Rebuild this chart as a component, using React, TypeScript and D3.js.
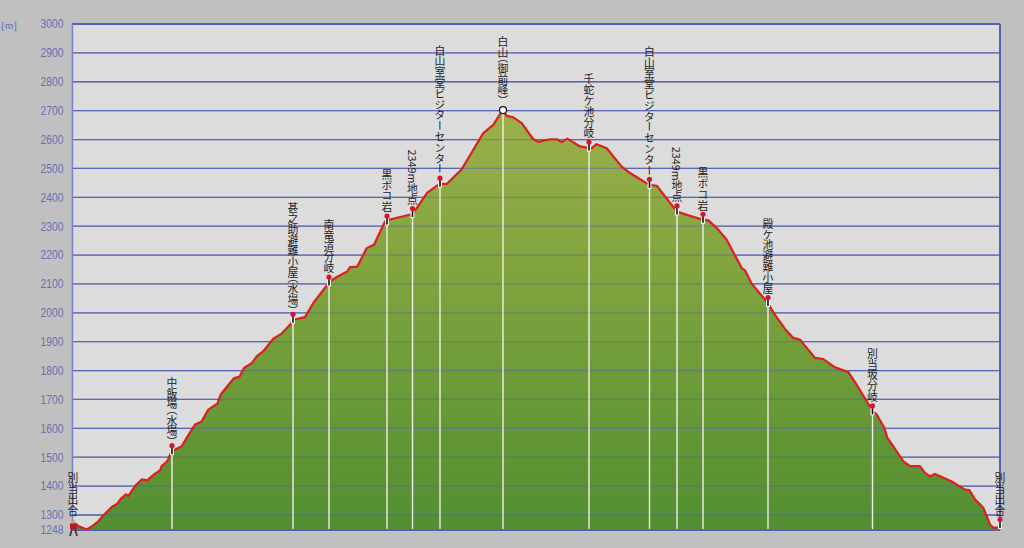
import { useEffect, useRef } from 'react';
import { select, scaleLinear, axisLeft, area, line, range } from 'd3';

const WIDTH = 1024;
const HEIGHT = 548;

// distance along the route (same unit as the horizontal axis, 0 = trailhead)
const routeDist = [
  0.8, 7.5, 14.2, 20.8, 25.8, 30.8, 39.2, 44.8, 48.2, 53.5, 55.8, 62.5, 69.2, 74.8, 82.5, 87.5, 89.2, 94.8, 99.2, 109.2,
  114.2, 122.5, 129.2, 135.8, 144.8, 148.2, 157.5, 161.5, 166.8, 171.5, 179.2, 184.2, 190.8, 200.8, 209.2, 217.5, 220.8,
  232.5, 240.8, 257.5, 264.2, 274.8, 277.5, 284.8, 294.2, 301.5, 312.5, 318.2, 340.2, 354.8, 367.5, 374.2, 389.2, 410.8,
  420.8, 430.2, 434.2, 440.8, 449.2, 460.8, 465.8, 477.5, 484.2, 489.2, 494.8, 507.5, 514.2, 519.2, 524.2, 534.2, 549.2,
  557.5, 576.8, 584.2, 604.2, 614.2, 630.8, 635.8, 644.2, 654.2, 669.2, 672.5, 679.2, 695.2, 702.5, 712.5, 720.8, 727.5,
  742.5, 750.8, 762.5, 775.8, 784.2, 800.2, 804.2, 811.8, 814.8, 820.8, 830.8, 837.5, 847.5, 852.5, 857.5, 862.5, 880.8,
  892.5, 896.8, 902.5, 910.8, 917.5, 920.8, 925.8,
];
const routeElev = [
  1273, 1259, 1250, 1264, 1278, 1298, 1328, 1339, 1356, 1371, 1365, 1400, 1423, 1420, 1443, 1454, 1469, 1486, 1521, 1538,
  1567, 1613, 1624, 1665, 1685, 1717, 1757, 1774, 1778, 1809, 1826, 1849, 1867, 1910, 1928, 1959, 1976, 1985, 2034, 2109,
  2124, 2143, 2158, 2160, 2224, 2236, 2316, 2324, 2342, 2416, 2447, 2446, 2497, 2622, 2651, 2703, 2682, 2677, 2657, 2601,
  2592, 2601, 2601, 2591, 2603, 2576, 2572, 2570, 2584, 2570, 2506, 2484, 2443, 2440, 2351, 2339, 2322, 2320, 2294, 2253,
  2155, 2147, 2101, 2034, 1993, 1944, 1913, 1907, 1844, 1840, 1811, 1795, 1751, 1659, 1648, 1602, 1567, 1538, 1486, 1469,
  1469, 1446, 1434, 1442, 1413, 1388, 1386, 1354, 1325, 1267, 1256, 1256,
];

const placeNames = [
  '別当出合', '中飯場（水場）', '甚之助避難小屋（水場）', '南竜道分岐', '黒ボコ岩', '2349m地点', '白山室堂ビジターセンター',
  '白山（御前峰）', '千蛇ケ池分岐', '白山室堂ビジターセンター', '2349m地点', '黒ボコ岩', '殿ケ池避難小屋', '別当坂分岐', '別当出合',
];
const placeDist = [0.5, 99.5, 220.5, 256.5, 314.5, 340, 367.5, 430.5, 516.5, 577, 604.5, 630.5, 695.5, 800, 927.5];
const placeElev = [1265, 1521, 1976, 2105, 2316, 2342, 2447, 2702, 2572, 2443, 2351, 2322, 2034, 1659, 1265];
const TRAILHEAD = 0;
const SUMMIT = 7;

const elevTicks = [1248, ...range(1300, 3001, 100)];

const BLUE = '#5660b4';

export default function App() {
  const svgRef = useRef<SVGSVGElement>(null);

  useEffect(() => {
    document.body.style.margin = '0';
    document.body.style.background = '#c0c0c0';
    const svg = select(svgRef.current!);
    svg.selectAll('*').remove();

    const x = scaleLinear().domain([0, 927.5]).range([72.5, 1000]);
    const y = scaleLinear().domain([1248, 3000]).range([530, 24]);

    const grad = svg
      .append('defs')
      .append('linearGradient')
      .attr('id', 'ground')
      .attr('gradientUnits', 'userSpaceOnUse')
      .attr('x1', 0)
      .attr('x2', 0)
      .attr('y1', y(2700))
      .attr('y2', y(1248));
    grad.append('stop').attr('offset', 0).attr('stop-color', '#9bb04a');
    grad.append('stop').attr('offset', 0.45).attr('stop-color', '#7ba23c');
    grad.append('stop').attr('offset', 1).attr('stop-color', '#528f30');

    svg.append('rect').attr('width', WIDTH).attr('height', HEIGHT).attr('fill', '#c0c0c0');
    svg
      .append('rect')
      .attr('x', x(0))
      .attr('y', y(3000))
      .attr('width', x(927.5) - x(0))
      .attr('height', y(1248) - y(3000))
      .attr('fill', '#dcdcdc');

    const drawGrid = (opacity: number) =>
      svg
        .append('g')
        .selectAll('line')
        .data(elevTicks)
        .enter()
        .append('line')
        .attr('x1', x(0))
        .attr('x2', x(927.5))
        .attr('y1', (d) => y(d))
        .attr('y2', (d) => y(d))
        .attr('stroke', BLUE)
        .attr('stroke-opacity', opacity)
        .attr('stroke-width', 1.3);

    drawGrid(0.9);

    const points = routeDist.map((d, i) => [d, routeElev[i]] as [number, number]);
    svg
      .append('path')
      .datum(points)
      .attr('fill', 'url(#ground)')
      .attr(
        'd',
        area<[number, number]>()
          .x((d) => x(d[0]))
          .y0(y(1248))
          .y1((d) => y(d[1])),
      );

    // the grid shows through the ground fill only faintly
    drawGrid(0.5);

    const yAxis = svg
      .append('g')
      .attr('transform', `translate(${x(0) - 9}, 0)`)
      .call(axisLeft(y).tickValues(elevTicks).tickSize(0).tickPadding(0).tickFormat((d) => String(d)));
    yAxis.select('.domain').remove();
    yAxis
      .selectAll('text')
      .attr('fill', '#6570b4')
      .attr('font-family', '"Liberation Sans", sans-serif')
      .attr('font-size', 12)
      .attr('textLength', 23)
      .attr('lengthAdjust', 'spacingAndGlyphs');

    svg
      .append('text')
      .attr('x', 1)
      .attr('y', 29)
      .attr('fill', '#6570b4')
      .attr('font-family', '"Liberation Serif", serif')
      .attr('font-size', 11)
      .text('[m]');

    // frame
    const frame = svg.append('g').attr('fill', 'none').attr('stroke', BLUE);
    frame
      .append('line')
      .attr('x1', x(0))
      .attr('x2', x(927.5))
      .attr('y1', y(3000))
      .attr('y2', y(3000))
      .attr('stroke-width', 2);
    frame
      .append('line')
      .attr('x1', x(0))
      .attr('x2', x(0))
      .attr('y1', y(3000))
      .attr('y2', y(1248))
      .attr('stroke', '#7a84cc')
      .attr('stroke-width', 1.5);
    frame
      .append('line')
      .attr('x1', x(927.5))
      .attr('x2', x(927.5))
      .attr('y1', y(3000))
      .attr('y2', y(1248))
      .attr('stroke-width', 2);
    frame
      .append('line')
      .attr('x1', x(0))
      .attr('x2', x(927.5))
      .attr('y1', y(1248))
      .attr('y2', y(1248))
      .attr('stroke-width', 2);

    const places = placeNames.map((name, i) => ({ name, i, d: placeDist[i], e: placeElev[i] }));

    svg
      .append('g')
      .selectAll('line')
      .data(places.slice(1, -1))
      .enter()
      .append('line')
      .attr('x1', (p) => x(p.d))
      .attr('x2', (p) => x(p.d))
      .attr('y1', (p) => y(p.e))
      .attr('y2', y(1248) - 1)
      .attr('stroke', '#eef0ea')
      .attr('stroke-width', 1.4);

    svg
      .append('path')
      .datum(points)
      .attr('fill', 'none')
      .attr('stroke', '#dc1f1f')
      .attr('stroke-width', 2.2)
      .attr('stroke-linejoin', 'round')
      .attr(
        'd',
        line<[number, number]>()
          .x((d) => x(d[0]))
          .y((d) => y(d[1])),
      );

    const pins = svg
      .append('g')
      .selectAll('g')
      .data(places)
      .enter()
      .append('g')
      .attr('transform', (p) => `translate(${x(p.d)}, ${y(p.e)})`);

    pins
      .filter((p) => p.i !== SUMMIT && p.i !== TRAILHEAD)
      .each(function () {
        const pin = select(this);
        pin.append('rect').attr('x', -2).attr('y', -5).attr('width', 4).attr('height', 9).attr('fill', '#f4f4f4');
        pin.append('line').attr('y1', -4).attr('y2', 3).attr('stroke', '#111').attr('stroke-width', 1.6);
        pin.append('circle').attr('cy', -5.5).attr('r', 2.6).attr('fill', '#d4162a');
      });
    pins
      .filter((p) => p.i === SUMMIT)
      .append('circle')
      .attr('r', 3.5)
      .attr('fill', '#fff')
      .attr('stroke', '#111')
      .attr('stroke-width', 1.2);

    pins
      .append('text')
      .attr('y', -9)
      .attr('x', 0)
      .attr('text-anchor', 'end')
      .attr('fill', '#1c1c1c')
      .attr('font-family', '"Noto Sans CJK JP", sans-serif')
      .attr('font-size', 10.8)
      .style('writing-mode', 'vertical-rl')
      .style('font-feature-settings', '"vhal"')
      .text((p) => p.name);

    // little hiker at the trailhead
    const hiker = svg.append('g').attr('transform', `translate(${x(0) + 1}, ${y(1248)})`);
    hiker.append('circle').attr('cy', -8).attr('r', 2).attr('fill', '#c9a27e');
    hiker.append('rect').attr('x', -3.5).attr('y', -6.5).attr('width', 7).attr('height', 5.5).attr('fill', '#b01c24');
    hiker
      .append('path')
      .attr('d', 'M-1.5,-1 L-3.5,6 M1.5,-1 L3.5,6')
      .attr('stroke', '#4a3a2a')
      .attr('stroke-width', 1.8);
  }, []);

  return <svg ref={svgRef} width={WIDTH} height={HEIGHT} style={{ display: 'block' }} />;
}
